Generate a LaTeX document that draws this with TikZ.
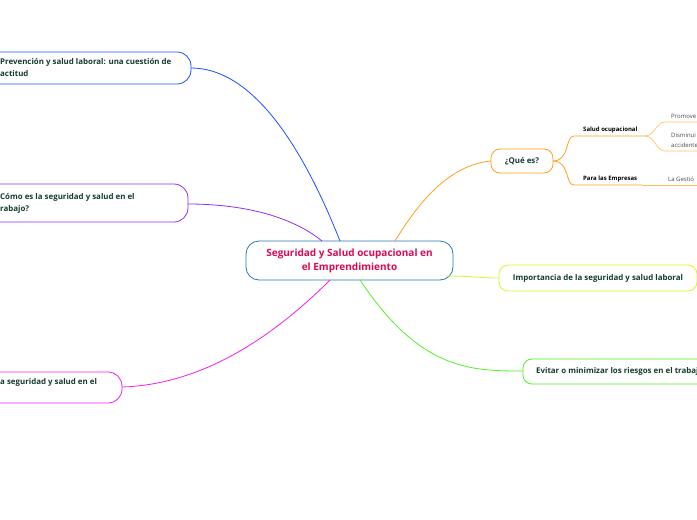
\documentclass[tikz,border=0pt]{standalone}
\usepackage{fontspec}
\setmainfont{Open Sans}
\definecolor{cblue}{RGB}{40,120,180}
\definecolor{blu}{RGB}{30,80,255}
\definecolor{pur}{RGB}{140,50,240}
\definecolor{mag}{RGB}{240,30,240}
\definecolor{crim}{RGB}{220,10,80}
\definecolor{org}{RGB}{255,160,30}
\definecolor{yel}{RGB}{220,245,40}
\definecolor{grn}{RGB}{80,240,40}
\definecolor{dgreen}{RGB}{20,60,45}
\begin{document}
\begin{tikzpicture}[x=1pt,y=-1pt,
  txt/.style={text=dgreen,font=\fontsize{7.9}{12}\selectfont\bfseries,align=left,inner sep=0pt},
  small/.style={text=black!70,font=\fontsize{6}{10}\selectfont,align=left,inner sep=0pt},
  sub/.style={text=black,font=\fontsize{6}{9}\selectfont\bfseries,inner sep=0pt},
  conn/.style={line width=0.8pt}]
\useasboundingbox (0,0) rectangle (697,520);
\clip (0,0) rectangle (697,520);
\fill[white] (0,0) rectangle (697,520);
% center
\draw[line width=0.8pt,draw=cblue,rounded corners=13pt] (246,241) rectangle (453,280);
\node[font=\fontsize{10}{14}\selectfont\bfseries,text=crim,align=center] (c) at (349.5,260.5) {Seguridad y Salud ocupacional en\\el Emprendimiento};
\coordinate (c1) at (340,241);
\coordinate (c2) at (322,241);
\coordinate (c3) at (330,280);
\coordinate (c4) at (395,241);
\coordinate (c5) at (446,276);
\coordinate (c6) at (360,280);
% blue
\draw[line width=0.8pt,draw=blu,rounded corners=14pt] (-40,52) rectangle (191,84);
\node[txt,anchor=west] (b) at (0,68) {Prevención y salud laboral: una cuestión de\\actitud};
\coordinate (be) at (191,68);
\draw[conn,blu] (c1) .. controls (300,140) and (250,68) .. (be);
% purple
\draw[line width=0.8pt,draw=pur,rounded corners=14pt] (-40,184) rectangle (188,222);
\node[txt,anchor=west] (p) at (0,203) {Cómo es la seguridad y salud en el\\rabajo?};
\coordinate (pe) at (188,204);
\draw[conn,pur] (c2) .. controls (290,215) and (240,204) .. (pe);
% magenta
\draw[line width=0.8pt,draw=mag,rounded corners=14pt] (-40,372) rectangle (122,403);
\node[txt,anchor=west] (m) at (0,382) {a seguridad y salud en el};
\coordinate (me) at (122,387);
\draw[conn,mag] (c3) .. controls (260,350) and (190,385) .. (me);
% orange
\draw[line width=0.8pt,draw=org,rounded corners=9pt] (491,149) rectangle (553,173);
\node[txt] (q) at (522,161) {¿Qué es?};
\coordinate (qe) at (491,161);
\draw[conn,org] (c4) .. controls (420,200) and (450,165) .. (qe);
\node[sub,anchor=south west] (so) at (583,133) {Salud ocupacional};
\node[sub,anchor=south west] (pe2) at (583,182) {Para las Empresas};
\draw[conn,org] (553,161) .. controls (570,161) and (565,136) .. (574,136) -- (645,136);
\draw[conn,org] (553,161) .. controls (570,161) and (565,185) .. (574,185) -- (642,185);
\node[small,anchor=south west] (pr) at (671,119) {Promove};
\node[small,anchor=south west] (di) at (671,148) {Disminui\\accidente};
\node[small,anchor=south west] (lg) at (668,182) {La Gestió};
\draw[line width=0.6pt,org!70] (645,136) .. controls (655,136) and (656,122) .. (665,122) -- (700,122);
\draw[line width=0.6pt,org!70] (645,136) .. controls (655,136) and (656,151) .. (665,151) -- (700,151);
\draw[line width=0.6pt,org!70] (642,185) -- (700,185);
% yellow
\draw[line width=0.8pt,draw=yel,rounded corners=9pt] (499,265) rectangle (697,291);
\node[txt] (y) at (598,278) {Importancia de la seguridad y salud laboral};
\coordinate (ye) at (499,278);
\draw[conn,yel] (c5) .. controls (470,276) and (480,278) .. (ye);
% green
\draw[line width=0.8pt,draw=grn,rounded corners=9pt] (523,359) rectangle (760,384);
\node[txt,anchor=west] (g) at (536,371.5) {Evitar o minimizar los riesgos en el trabajo};
\coordinate (ge) at (523,371);
\draw[conn,grn] (c6) .. controls (420,370) and (470,371) .. (ge);
\end{tikzpicture}
\end{document}
